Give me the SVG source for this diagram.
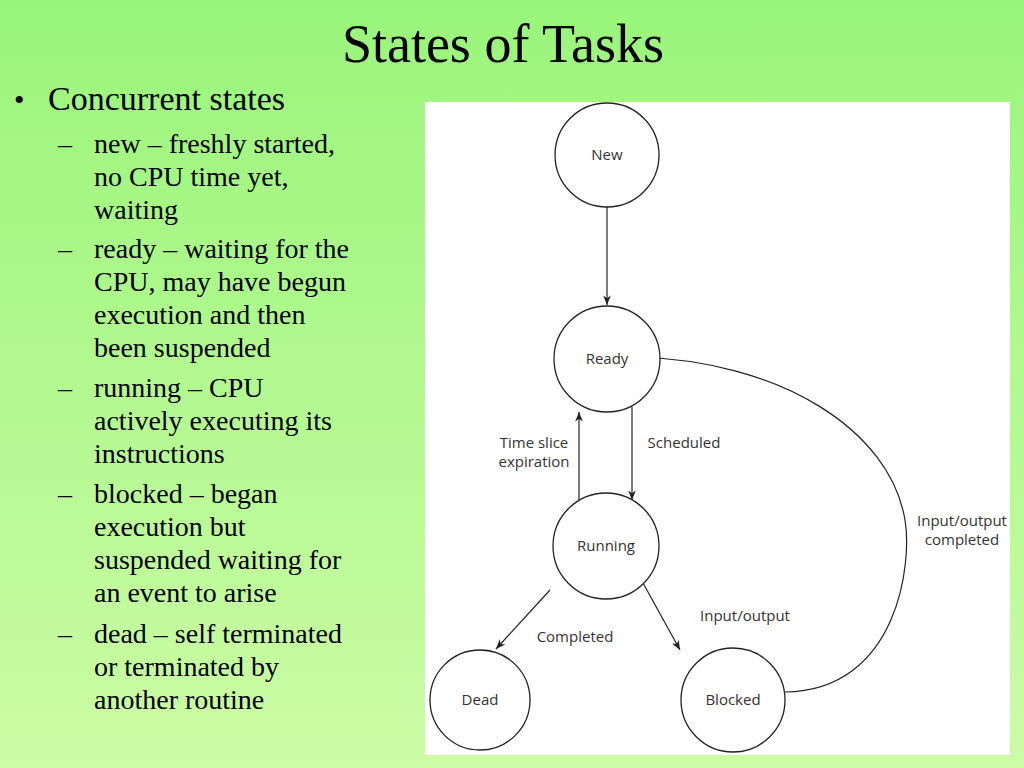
<svg xmlns="http://www.w3.org/2000/svg" width="1024" height="768" viewBox="0 0 1024 768">
<defs>
<linearGradient id="bg" x1="0" y1="0" x2="0" y2="1"><stop offset="0" stop-color="#99f57a"/><stop offset="1" stop-color="#ccfca6"/></linearGradient>
<marker id="ah" viewBox="0 0 10 10" refX="10" refY="5" markerWidth="8" markerHeight="8" orient="auto"><path d="M0,1 L10,5 L0,9 L3,5 Z" fill="#222"/></marker>
</defs>
<style>
.t{font-family:"Liberation Serif",serif;fill:#000}
.n{fill:#fff;stroke:#222;stroke-width:1.3}
.l{font-family:"Open Sans","DejaVu Sans",sans-serif;font-size:15px;fill:#333;text-anchor:middle}
.c{fill:none;stroke:#222;stroke-width:1.2;marker-end:url(#ah)}
</style>
<rect width="1024" height="768" fill="url(#bg)"/>
<text class="t" x="503" y="62" font-size="54" text-anchor="middle">States of Tasks</text>
<g class="t" font-size="30">
<text x="14" y="110">•</text><text x="48" y="110" font-size="34">Concurrent states</text>
</g>
<g class="t" font-size="28">
<text x="58" y="153">–</text><text x="94" y="153">new – freshly started,</text><text x="94" y="186">no CPU time yet,</text><text x="94" y="219">waiting</text>
<text x="58" y="258">–</text><text x="94" y="258">ready – waiting for the</text><text x="94" y="291">CPU, may have begun</text><text x="94" y="324">execution and then</text><text x="94" y="357">been suspended</text>
<text x="58" y="397">–</text><text x="94" y="397">running – CPU</text><text x="94" y="430">actively executing its</text><text x="94" y="463">instructions</text>
<text x="58" y="503">–</text><text x="94" y="503">blocked – began</text><text x="94" y="536">execution but</text><text x="94" y="569">suspended waiting for</text><text x="94" y="602">an event to arise</text>
<text x="58" y="643">–</text><text x="94" y="643">dead – self terminated</text><text x="94" y="676">or terminated by</text><text x="94" y="709">another routine</text>
</g>
<rect x="425" y="102" width="585" height="653" fill="#fff"/>
<g id="connectors">
<line class="c" x1="607" y1="207" x2="607" y2="305"/>
<line class="c" x1="632" y1="407" x2="632" y2="500"/>
<line class="c" x1="579" y1="500" x2="579" y2="412"/>
<line class="c" x1="550" y1="590" x2="496" y2="649"/>
<line class="c" x1="643" y1="583" x2="680" y2="650"/>
<path class="c" d="M785,692 C900,690 912,560 905,520 C890,430 780,360 634,357"/>
<text class="l" x="534" y="448">Time slice</text><text class="l" x="534" y="467">expiration</text>
<text class="l" x="684" y="448">Scheduled</text>
<text class="l" x="575" y="642">Completed</text>
<text class="l" x="745" y="621">Input/output</text>
<text class="l" x="962" y="526">Input/output</text><text class="l" x="962" y="545">completed</text>
</g>
<g id="new"><circle class="n" cx="607" cy="155" r="52"/><text class="l" x="607" y="160">New</text></g>
<g id="ready"><circle class="n" cx="607" cy="359" r="53"/><text class="l" x="607" y="364">Ready</text></g>
<g id="running"><circle class="n" cx="606" cy="546" r="53"/><text class="l" x="606" y="551">Running</text></g>
<g id="dead"><circle class="n" cx="480" cy="700" r="50"/><text class="l" x="480" y="705">Dead</text></g>
<g id="blocked"><circle class="n" cx="733" cy="700" r="52"/><text class="l" x="733" y="705">Blocked</text></g>
</svg>
